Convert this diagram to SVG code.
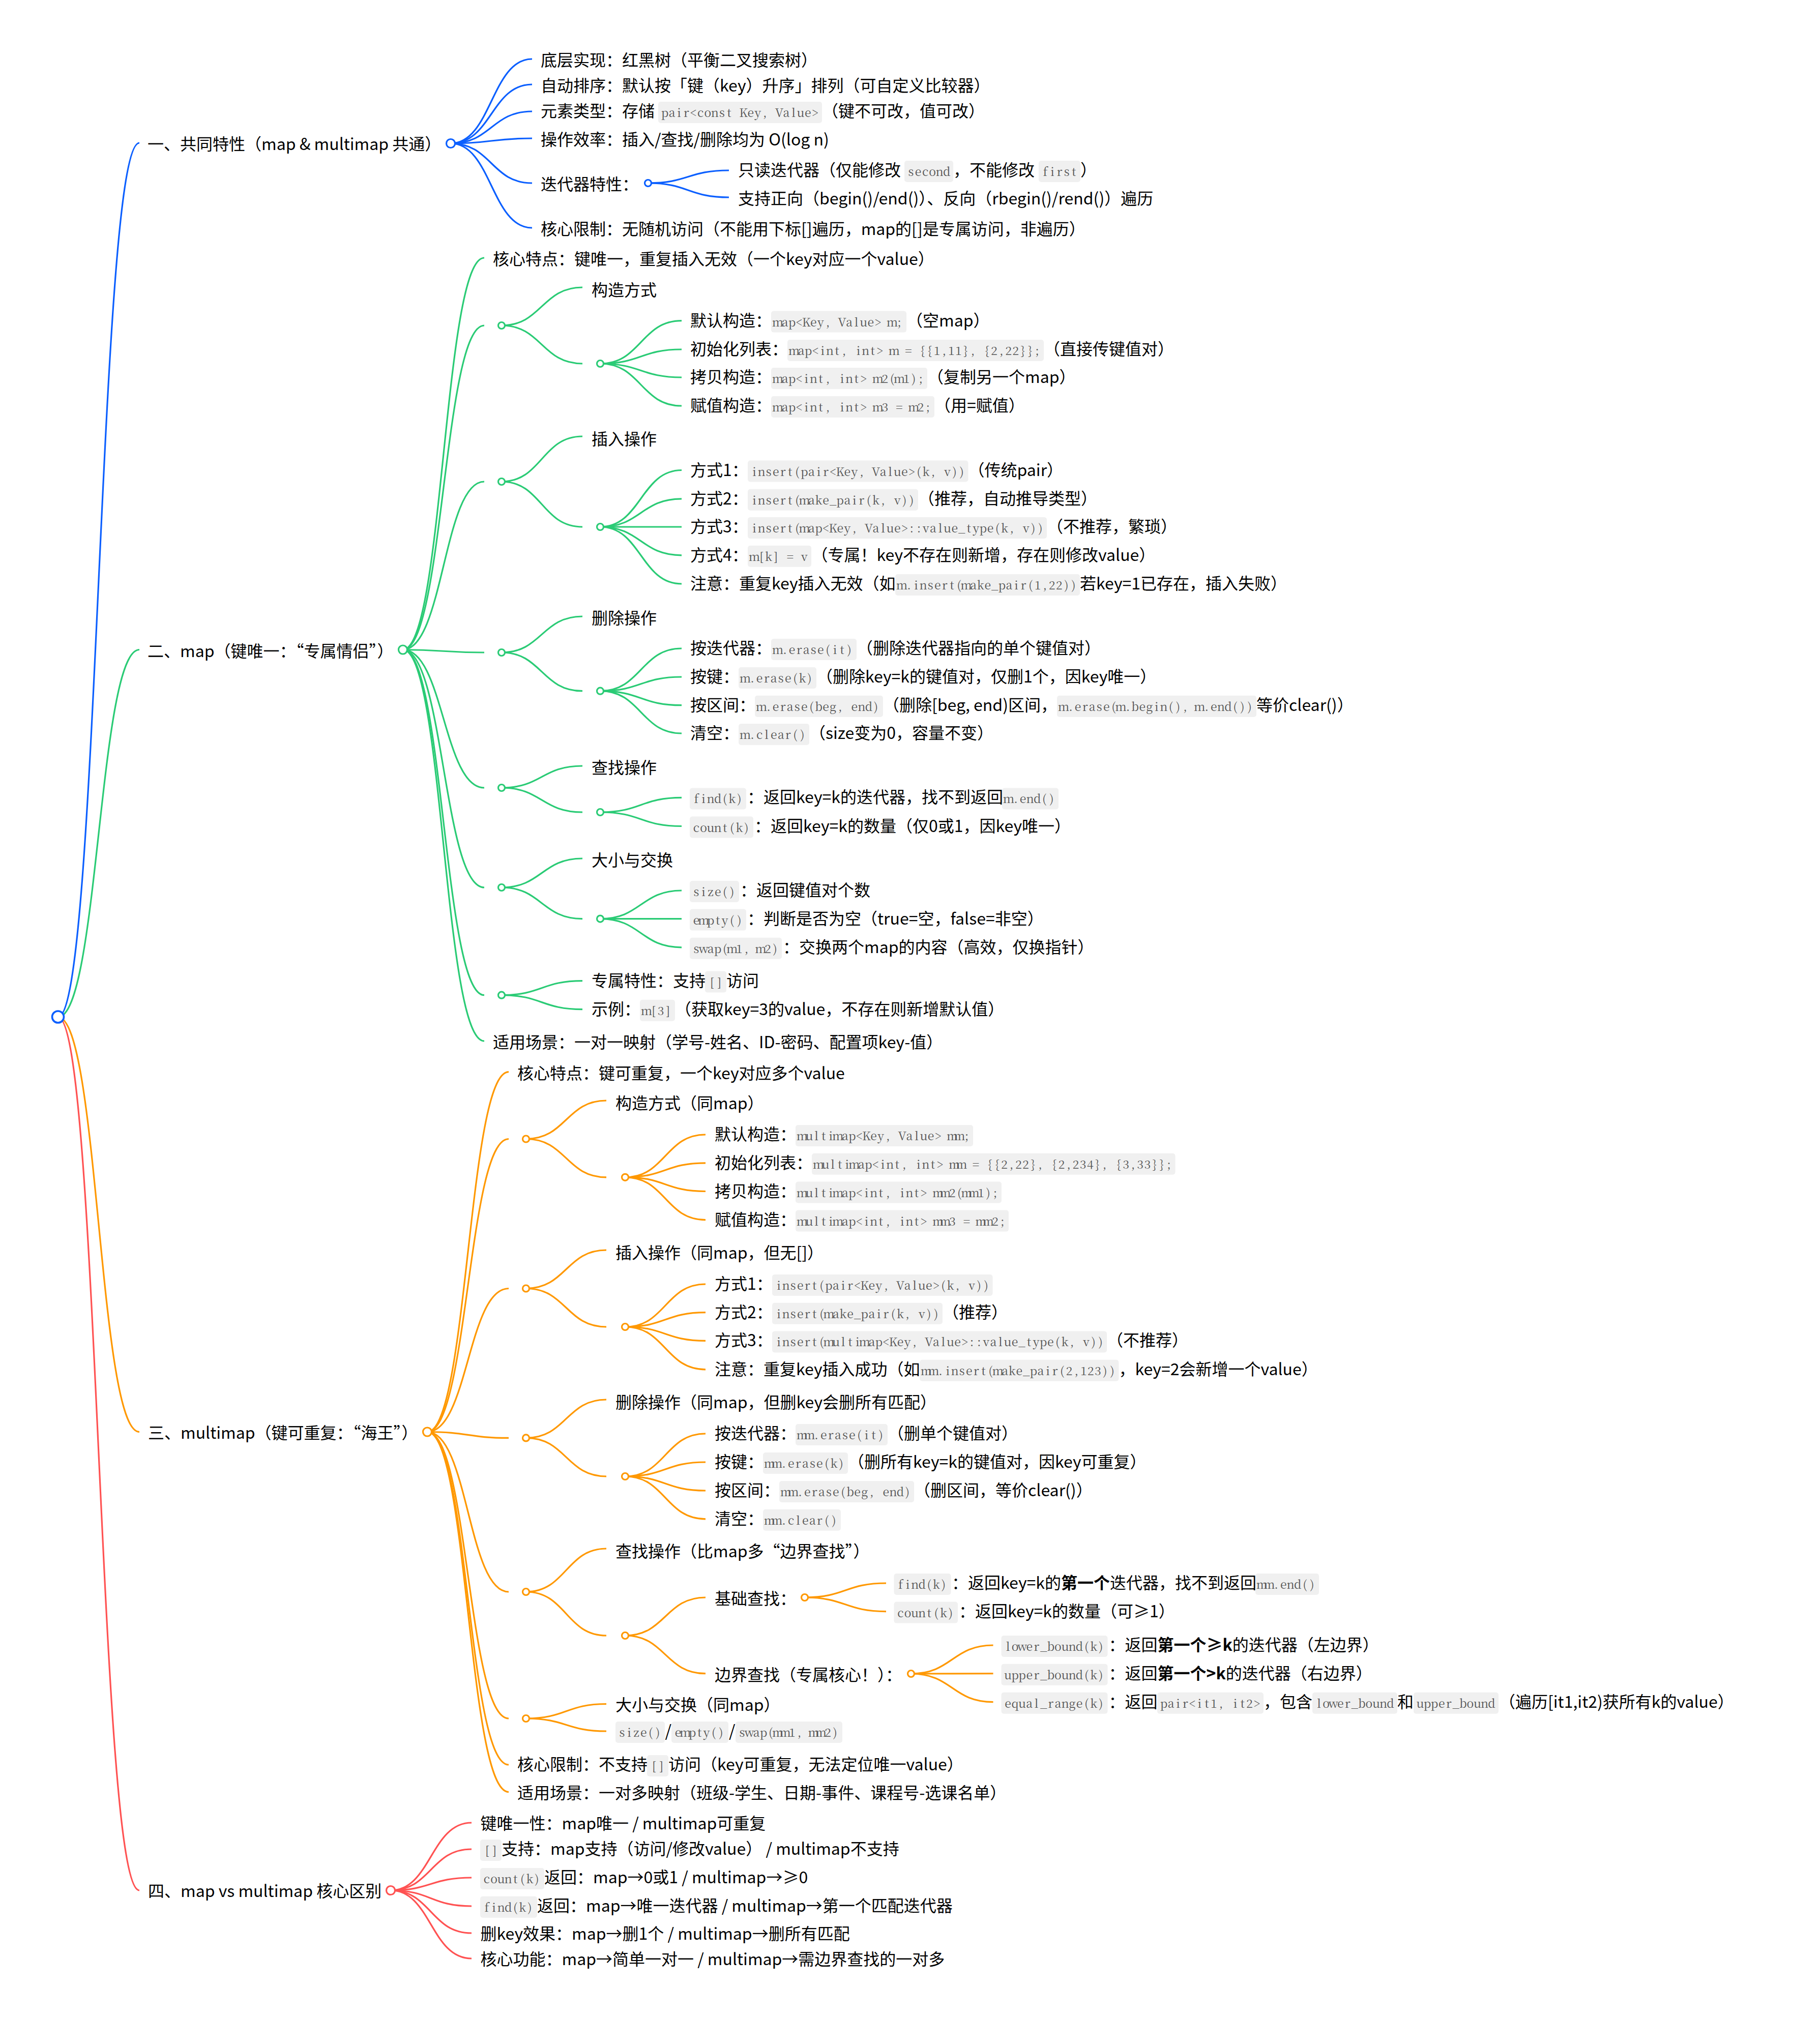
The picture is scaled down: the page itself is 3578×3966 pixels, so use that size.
<svg xmlns="http://www.w3.org/2000/svg" width="3578" height="3966" viewBox="0 0 3578 3966">
<style>
text{font-family:"Noto Sans CJK SC","Noto Sans",sans-serif;font-size:32px;fill:#000;white-space:pre}
text.c{font-family:"Noto Serif CJK SC","Liberation Serif",serif;font-size:23px;fill:#555;text-anchor:middle}
.k{fill:#f0f0f0;height:42px;rx:5px;ry:5px}
.s{font-weight:700}
path{fill:none;stroke-width:3.2}
circle{fill:#fff;stroke-width:3.2}
.B path{stroke:#0b5fff}.B circle{stroke:#0b5fff}
.G path{stroke:#2acb75}.G circle{stroke:#2acb75}
.O path{stroke:#ff9800}.O circle{stroke:#ff9800}
.R path{stroke:#ff5252}.R circle{stroke:#ff5252}
</style>
<rect width="3578" height="3966" fill="#fff"/>
<g id="connectors">
<g class="R"><path d="M114 2000C194 2000 194 3717 274 3717"/>
<path d="M768 3717C847 3717 847 3584 927 3584"/><path d="M768 3717C847 3717 847 3636 927 3636"/><path d="M768 3717C847 3717 847 3692 927 3692"/><path d="M768 3717C847 3717 847 3748 927 3748"/><path d="M768 3717C847 3717 847 3801 927 3801"/><path d="M768 3717C847 3717 847 3851 927 3851"/></g>
<g class="O"><path d="M114 2000C194 2000 194 2815.5 274 2815.5"/>
<path d="M840 2815.5C920 2815.5 920 2107.6 1000 2107.6"/><path d="M840 2815.5C920 2815.5 920 2239.5 1000 2239.5"/><path d="M840 2815.5C920 2815.5 920 2533.5 1000 2533.5"/><path d="M840 2815.5C920 2815.5 920 2827.4 1000 2827.4"/><path d="M840 2815.5C920 2815.5 920 3130 1000 3130"/><path d="M840 2815.5C920 2815.5 920 3379 1000 3379"/><path d="M840 2815.5C920 2815.5 920 3470 1000 3470"/><path d="M840 2815.5C920 2815.5 920 3523.5 1000 3523.5"/>
<path d="M1034 2239.5C1113 2239.5 1113 2164 1192 2164"/><path d="M1034 2239.5C1113 2239.5 1113 2314.8 1192 2314.8"/>
<path d="M1034 2533.5C1113 2533.5 1113 2458 1192 2458"/><path d="M1034 2533.5C1113 2533.5 1113 2609 1192 2609"/>
<path d="M1034 2827.4C1113 2827.4 1113 2752 1192 2752"/><path d="M1034 2827.4C1113 2827.4 1113 2903 1192 2903"/>
<path d="M1034 3130C1113 3130 1113 3045 1192 3045"/><path d="M1034 3130C1113 3130 1113 3216 1192 3216"/>
<path d="M1034 3379C1113 3379 1113 3350.5 1192 3350.5"/><path d="M1034 3379C1113 3379 1113 3404 1192 3404"/>
<path d="M1229 2314.8C1308 2314.8 1308 2231 1387 2231"/><path d="M1229 2314.8C1308 2314.8 1308 2286.8 1387 2286.8"/><path d="M1229 2314.8C1308 2314.8 1308 2342.5 1387 2342.5"/><path d="M1229 2314.8C1308 2314.8 1308 2398.6 1387 2398.6"/>
<path d="M1229 2609C1308 2609 1308 2525 1387 2525"/><path d="M1229 2609C1308 2609 1308 2580.7 1387 2580.7"/><path d="M1229 2609C1308 2609 1308 2636.4 1387 2636.4"/><path d="M1229 2609C1308 2609 1308 2692.8 1387 2692.8"/>
<path d="M1229 2903C1308 2903 1308 2819 1387 2819"/><path d="M1229 2903C1308 2903 1308 2875 1387 2875"/><path d="M1229 2903C1308 2903 1308 2931 1387 2931"/><path d="M1229 2903C1308 2903 1308 2986.8 1387 2986.8"/>
<path d="M1229 3216C1308 3216 1308 3141 1387 3141"/><path d="M1229 3216C1308 3216 1308 3290.7 1387 3290.7"/>
<path d="M1582 3141C1662 3141 1662 3113 1742 3113"/><path d="M1582 3141C1662 3141 1662 3168.6 1742 3168.6"/>
<path d="M1791 3291C1872 3291 1872 3235 1952.5 3235"/><path d="M1791 3291C1872 3291 1872 3290.7 1952.5 3290.7"/><path d="M1791 3291C1872 3291 1872 3346.7 1952.5 3346.7"/></g>
<g class="G"><path d="M114 2000C194 2000 194 1277.5 274 1277.5"/>
<path d="M792 1277.5C872 1277.5 872 507 952 507"/><path d="M792 1277.5C872 1277.5 872 640 952 640"/><path d="M792 1277.5C872 1277.5 872 947 952 947"/><path d="M792 1277.5C872 1277.5 872 1283 952 1283"/><path d="M792 1277.5C872 1277.5 872 1549 952 1549"/><path d="M792 1277.5C872 1277.5 872 1745 952 1745"/><path d="M792 1277.5C872 1277.5 872 1956.7 952 1956.7"/><path d="M792 1277.5C872 1277.5 872 2047 952 2047"/>
<path d="M986 640C1065 640 1065 565 1145 565"/><path d="M986 640C1065 640 1065 715 1145 715"/>
<path d="M986 947C1065 947 1065 858 1145 858"/><path d="M986 947C1065 947 1065 1036 1145 1036"/>
<path d="M986 1283C1065 1283 1065 1212 1145 1212"/><path d="M986 1283C1065 1283 1065 1358.7 1145 1358.7"/>
<path d="M986 1549C1065 1549 1065 1506 1145 1506"/><path d="M986 1549C1065 1549 1065 1597 1145 1597"/>
<path d="M986 1745C1065 1745 1065 1688 1145 1688"/><path d="M986 1745C1065 1745 1065 1806.6 1145 1806.6"/>
<path d="M986 1956.7C1065 1956.7 1065 1928.6 1145 1928.6"/><path d="M986 1956.7C1065 1956.7 1065 1984.7 1145 1984.7"/>
<path d="M1180 715C1260 715 1260 630.6 1340 630.6"/><path d="M1180 715C1260 715 1260 687 1340 687"/><path d="M1180 715C1260 715 1260 742 1340 742"/><path d="M1180 715C1260 715 1260 798 1340 798"/>
<path d="M1180 1036C1260 1036 1260 924.5 1340 924.5"/><path d="M1180 1036C1260 1036 1260 980.8 1340 980.8"/><path d="M1180 1036C1260 1036 1260 1036 1340 1036"/><path d="M1180 1036C1260 1036 1260 1091.8 1340 1091.8"/><path d="M1180 1036C1260 1036 1260 1148 1340 1148"/>
<path d="M1180 1358.7C1260 1358.7 1260 1275 1340 1275"/><path d="M1180 1358.7C1260 1358.7 1260 1331 1340 1331"/><path d="M1180 1358.7C1260 1358.7 1260 1386.7 1340 1386.7"/><path d="M1180 1358.7C1260 1358.7 1260 1442 1340 1442"/>
<path d="M1180 1597C1260 1597 1260 1568.4 1340 1568.4"/><path d="M1180 1597C1260 1597 1260 1624.5 1340 1624.5"/>
<path d="M1180 1806.6C1260 1806.6 1260 1751 1340 1751"/><path d="M1180 1806.6C1260 1806.6 1260 1806.6 1340 1806.6"/><path d="M1180 1806.6C1260 1806.6 1260 1862.8 1340 1862.8"/></g>
<g class="B"><path d="M114 2000C194 2000 194 281 274 281"/>
<path d="M886 282C966 282 966 116 1046 116"/><path d="M886 282C966 282 966 166 1046 166"/><path d="M886 282C966 282 966 219 1046 219"/><path d="M886 282C966 282 966 272 1046 272"/><path d="M886 282C966 282 966 360 1046 360"/><path d="M886 282C966 282 966 448 1046 448"/>
<path d="M1274 360C1353 360 1353 335 1433 335"/><path d="M1274 360C1353 360 1353 388 1433 388"/></g>
</g>
<g id="root" class="B"><circle cx="114" cy="1999.5" r="11.5" style="stroke-width:3.6"/></g>

<g id="blue" class="B">
<g id="b0"><text x="290" y="295">一、共同特性（map &amp; multimap 共通）</text><circle cx="886" cy="282" r="8.5"/></g>
<g id="b1"><text x="1063" y="129.5">底层实现：红黑树（平衡二叉搜索树）</text></g>
<g id="b2"><text x="1063" y="179.5">自动排序：默认按「键（key）升序」排列（可自定义比较器）</text></g>
<g id="b3"><rect class="k" x="1294" y="200" width="322"/><text x="1063" y="230">元素类型：存储</text><text class="c" transform="translate(1300,230)" x="7 21.1 35.1 49.2 63.2 77.3 91.4 105.4 119.5 133.5 147.6 161.7 175.7 189.8 203.8 217.9 232 246 260.1 274.1 288.2 302.3">pair&lt;const Key, Value&gt;</text><text x="1616" y="230">（键不可改，值可改）</text></g>
<g id="b4"><text x="1063" y="285.5">操作效率：插入/查找/删除均为 O(log n)</text></g>
<g id="b5"><text x="1063" y="373.5">迭代器特性：</text><circle cx="1274" cy="360" r="6.5"/></g>
<g id="b6"><rect class="k" x="1778" y="316" width="96"/><rect class="k" x="2042" y="316" width="82"/><text x="1451" y="346">只读迭代器（仅能修改</text><text class="c" transform="translate(1784,346)" x="7 21.1 35.1 49.2 63.2 77.3">second</text><text x="1874" y="346">，不能修改</text><text class="c" transform="translate(2048,346)" x="7 21.1 35.1 49.2 63.2">first</text><text x="2124" y="346">）</text></g>
<g id="b7"><text x="1451" y="401.5">支持正向（begin()/end()）、反向（rbegin()/rend()）遍历</text></g>
<g id="b8"><text x="1063" y="461.5">核心限制：无随机访问（不能用下标[]遍历，map的[]是专属访问，非遍历）</text></g>
</g>

<g id="green" class="G">
<g id="g0"><text x="290" y="1291.5">二、map（键唯一：“专属情侣”）</text><circle cx="792" cy="1277.5" r="8.5"/></g>
<g id="g1"><text x="969" y="521">核心特点：键唯一，重复插入无效（一个key对应一个value）</text></g>
<g id="g2"><circle cx="986" cy="640" r="6.5"/><text x="1163" y="582">构造方式</text><circle cx="1180" cy="715" r="6.5"/></g>
<g id="g3"><rect class="k" x="1516" y="611.6" width="266"/><text x="1357" y="641.6">默认构造：</text><text class="c" transform="translate(1522,641.6)" x="7 21.1 35.1 49.2 63.2 77.3 91.4 105.4 119.5 133.5 147.6 161.7 175.7 189.8 203.8 217.9 232 246">map&lt;Key, Value&gt; m;</text><text x="1782" y="641.6">（空map）</text></g>
<g id="g4"><rect class="k" x="1548" y="668" width="504"/><text x="1357" y="698">初始化列表：</text><text class="c" transform="translate(1554,698)" x="7 21.1 35.1 49.2 63.2 77.3 91.4 105.4 119.5 133.5 147.6 161.7 175.7 189.8 203.8 217.9 232 246 260.1 274.1 288.2 302.3 316.3 330.4 344.4 358.5 372.6 386.6 400.7 414.7 428.8 442.9 456.9 471 485">map&lt;int, int&gt; m = {{1,11}, {2,22}};</text><text x="2052" y="698">（直接传键值对）</text></g>
<g id="g5"><rect class="k" x="1516" y="723" width="307"/><text x="1357" y="753">拷贝构造：</text><text class="c" transform="translate(1522,753)" x="7 21.1 35.1 49.2 63.2 77.3 91.4 105.4 119.5 133.5 147.6 161.7 175.7 189.8 203.8 217.9 232 246 260.1 274.1 288.2">map&lt;int, int&gt; m2(m1);</text><text x="1823" y="753">（复制另一个map）</text></g>
<g id="g6"><rect class="k" x="1516" y="779" width="321"/><text x="1357" y="809">赋值构造：</text><text class="c" transform="translate(1522,809)" x="7 21.1 35.1 49.2 63.2 77.3 91.4 105.4 119.5 133.5 147.6 161.7 175.7 189.8 203.8 217.9 232 246 260.1 274.1 288.2 302.3">map&lt;int, int&gt; m3 = m2;</text><text x="1837" y="809">（用=赋值）</text></g>
<g id="g7"><circle cx="986" cy="947" r="6.5"/><text x="1163" y="875">插入操作</text><circle cx="1180" cy="1036" r="6.5"/></g>
<g id="g8"><rect class="k" x="1470" y="905.5" width="433.5"/><text x="1357" y="935.5">方式1：</text><text class="c" transform="translate(1476,935.5)" x="7 21.1 35.1 49.2 63.2 77.3 91.4 105.4 119.5 133.5 147.6 161.7 175.7 189.8 203.8 217.9 232 246 260.1 274.1 288.2 302.3 316.3 330.4 344.4 358.5 372.6 386.6 400.7 414.7">insert(pair&lt;Key, Value&gt;(k, v))</text><text x="1903.5" y="935.5">（传统pair）</text></g>
<g id="g9"><rect class="k" x="1470" y="961.8" width="335"/><text x="1357" y="991.8">方式2：</text><text class="c" transform="translate(1476,991.8)" x="7 21.1 35.1 49.2 63.2 77.3 91.4 105.4 119.5 133.5 147.6 161.7 175.7 189.8 203.8 217.9 232 246 260.1 274.1 288.2 302.3 316.3">insert(make_pair(k, v))</text><text x="1805" y="991.8">（推荐，自动推导类型）</text></g>
<g id="g10"><rect class="k" x="1470" y="1017" width="588"/><text x="1357" y="1047">方式3：</text><text class="c" transform="translate(1476,1047)" x="7 21.1 35.1 49.2 63.2 77.3 91.4 105.4 119.5 133.5 147.6 161.7 175.7 189.8 203.8 217.9 232 246 260.1 274.1 288.2 302.3 316.3 330.4 344.4 358.5 372.6 386.6 400.7 414.7 428.8 442.9 456.9 471 485 499.1 513.2 527.2 541.3 555.3 569.4">insert(map&lt;Key, Value&gt;::value_type(k, v))</text><text x="2058" y="1047">（不推荐，繁琐）</text></g>
<g id="g11"><rect class="k" x="1470" y="1072.8" width="125"/><text x="1357" y="1102.8">方式4：</text><text class="c" transform="translate(1476,1102.8)" x="7 21.1 35.1 49.2 63.2 77.3 91.4 105.4">m[k] = v</text><text x="1595.5" y="1102.8">（专属！key不存在则新增，存在则修改value）</text></g>
<g id="g12"><rect class="k" x="1760" y="1129" width="363"/><text x="1357" y="1159">注意：重复key插入无效（如</text><text class="c" transform="translate(1766,1159)" x="7 21.1 35.1 49.2 63.2 77.3 91.4 105.4 119.5 133.5 147.6 161.7 175.7 189.8 203.8 217.9 232 246 260.1 274.1 288.2 302.3 316.3 330.4 344.4">m.insert(make_pair(1,22))</text><text x="2123" y="1159">若key=1已存在，插入失败）</text></g>
<g id="g13"><circle cx="986" cy="1283" r="6.5"/><text x="1163" y="1227">删除操作</text><circle cx="1180" cy="1358.7" r="6.5"/></g>
<g id="g14"><rect class="k" x="1516" y="1256" width="168"/><text x="1357" y="1286">按迭代器：</text><text class="c" transform="translate(1522,1286)" x="7 21.1 35.1 49.2 63.2 77.3 91.4 105.4 119.5 133.5 147.6">m.erase(it)</text><text x="1684" y="1286">（删除迭代器指向的单个键值对）</text></g>
<g id="g15"><rect class="k" x="1452" y="1312" width="153"/><text x="1357" y="1342">按键：</text><text class="c" transform="translate(1458,1342)" x="7 21.1 35.1 49.2 63.2 77.3 91.4 105.4 119.5 133.5">m.erase(k)</text><text x="1605" y="1342">（删除key=k的键值对，仅删1个，因key唯一）</text></g>
<g id="g16"><rect class="k" x="1484" y="1367.7" width="252"/><rect class="k" x="2078" y="1367.7" width="392"/><text x="1357" y="1397.7">按区间：</text><text class="c" transform="translate(1490,1397.7)" x="7 21.1 35.1 49.2 63.2 77.3 91.4 105.4 119.5 133.5 147.6 161.7 175.7 189.8 203.8 217.9 232">m.erase(beg, end)</text><text x="1736" y="1397.7">（删除[beg, end)区间，</text><text class="c" transform="translate(2084,1397.7)" x="7 21.1 35.1 49.2 63.2 77.3 91.4 105.4 119.5 133.5 147.6 161.7 175.7 189.8 203.8 217.9 232 246 260.1 274.1 288.2 302.3 316.3 330.4 344.4 358.5 372.6">m.erase(m.begin(), m.end())</text><text x="2470" y="1397.7">等价clear()）</text></g>
<g id="g17"><rect class="k" x="1452" y="1423" width="139"/><text x="1357" y="1453">清空：</text><text class="c" transform="translate(1458,1453)" x="7 21.1 35.1 49.2 63.2 77.3 91.4 105.4 119.5">m.clear()</text><text x="1591" y="1453">（size变为0，容量不变）</text></g>
<g id="g18"><circle cx="986" cy="1549" r="6.5"/><text x="1163" y="1520.5">查找操作</text><circle cx="1180" cy="1597" r="6.5"/></g>
<g id="g19"><rect class="k" x="1356" y="1549.4" width="111"/><rect class="k" x="1970" y="1549.4" width="111"/><text class="c" transform="translate(1362,1579.4)" x="7 21.1 35.1 49.2 63.2 77.3 91.4">find(k)</text><text x="1469" y="1579.4">：返回key=k的迭代器，找不到返回</text><text class="c" transform="translate(1976,1579.4)" x="7 21.1 35.1 49.2 63.2 77.3 91.4">m.end()</text></g>
<g id="g20"><rect class="k" x="1356" y="1605.5" width="125"/><text class="c" transform="translate(1362,1635.5)" x="7 21.1 35.1 49.2 63.2 77.3 91.4 105.4">count(k)</text><text x="1483" y="1635.5">：返回key=k的数量（仅0或1，因key唯一）</text></g>
<g id="g21"><circle cx="986" cy="1745" r="6.5"/><text x="1163" y="1702.5">大小与交换</text><circle cx="1180" cy="1806.6" r="6.5"/></g>
<g id="g22"><rect class="k" x="1356" y="1732" width="97"/><text class="c" transform="translate(1362,1762)" x="7 21.1 35.1 49.2 63.2 77.3">size()</text><text x="1455" y="1762">：返回键值对个数</text></g>
<g id="g23"><rect class="k" x="1356" y="1787.6" width="111"/><text class="c" transform="translate(1362,1817.6)" x="7 21.1 35.1 49.2 63.2 77.3 91.4">empty()</text><text x="1469" y="1817.6">：判断是否为空（true=空，false=非空）</text></g>
<g id="g24"><rect class="k" x="1356" y="1843.8" width="181"/><text class="c" transform="translate(1362,1873.8)" x="7 21.1 35.1 49.2 63.2 77.3 91.4 105.4 119.5 133.5 147.6 161.7">swap(m1, m2)</text><text x="1539" y="1873.8">：交换两个map的内容（高效，仅换指针）</text></g>
<g id="g25"><circle cx="986" cy="1956.7" r="6.5"/><rect class="k" x="1386" y="1909.6" width="42"/><text x="1163" y="1939.6">专属特性：支持</text><text class="c" transform="translate(1393,1939.6)" x="7 21.1">[]</text><text x="1428" y="1939.6">访问</text></g>
<g id="g26"><rect class="k" x="1258" y="1965.7" width="69"/><text x="1163" y="1995.7">示例：</text><text class="c" transform="translate(1264,1995.7)" x="7 21.1 35.1 49.2">m[3]</text><text x="1327" y="1995.7">（获取key=3的value，不存在则新增默认值）</text></g>
<g id="g27"><text x="969" y="2061">适用场景：一对一映射（学号-姓名、ID-密码、配置项key-值）</text></g>
</g>

<g id="orange" class="O">
<g id="o0"><text x="291" y="2829">三、multimap（键可重复：“海王”）</text><circle cx="840" cy="2815.5" r="8.5"/></g>
<g id="o1"><text x="1017" y="2122">核心特点：键可重复，一个key对应多个value</text></g>
<g id="o2"><circle cx="1034" cy="2239.5" r="6.5"/><text x="1210" y="2181">构造方式（同map）</text><circle cx="1229" cy="2314.8" r="6.5"/></g>
<g id="o3"><rect class="k" x="1564" y="2212" width="349"/><text x="1405" y="2242">默认构造：</text><text class="c" transform="translate(1570,2242)" x="7 21.1 35.1 49.2 63.2 77.3 91.4 105.4 119.5 133.5 147.6 161.7 175.7 189.8 203.8 217.9 232 246 260.1 274.1 288.2 302.3 316.3 330.4">multimap&lt;Key, Value&gt; mm;</text></g>
<g id="o4"><rect class="k" x="1596" y="2267.8" width="714.5"/><text x="1405" y="2297.8">初始化列表：</text><text class="c" transform="translate(1602,2297.8)" x="7 21.1 35.1 49.2 63.2 77.3 91.4 105.4 119.5 133.5 147.6 161.7 175.7 189.8 203.8 217.9 232 246 260.1 274.1 288.2 302.3 316.3 330.4 344.4 358.5 372.6 386.6 400.7 414.7 428.8 442.9 456.9 471 485 499.1 513.2 527.2 541.3 555.3 569.4 583.5 597.5 611.6 625.6 639.7 653.8 667.8 681.9 695.9">multimap&lt;int, int&gt; mm = {{2,22}, {2,234}, {3,33}};</text></g>
<g id="o5"><rect class="k" x="1564" y="2323.5" width="405"/><text x="1405" y="2353.5">拷贝构造：</text><text class="c" transform="translate(1570,2353.5)" x="7 21.1 35.1 49.2 63.2 77.3 91.4 105.4 119.5 133.5 147.6 161.7 175.7 189.8 203.8 217.9 232 246 260.1 274.1 288.2 302.3 316.3 330.4 344.4 358.5 372.6 386.6">multimap&lt;int, int&gt; mm2(mm1);</text></g>
<g id="o6"><rect class="k" x="1564" y="2379.6" width="419"/><text x="1405" y="2409.6">赋值构造：</text><text class="c" transform="translate(1570,2409.6)" x="7 21.1 35.1 49.2 63.2 77.3 91.4 105.4 119.5 133.5 147.6 161.7 175.7 189.8 203.8 217.9 232 246 260.1 274.1 288.2 302.3 316.3 330.4 344.4 358.5 372.6 386.6 400.7">multimap&lt;int, int&gt; mm3 = mm2;</text></g>
<g id="o7"><circle cx="1034" cy="2533.5" r="6.5"/><text x="1210" y="2475">插入操作（同map，但无[]）</text><circle cx="1229" cy="2609" r="6.5"/></g>
<g id="o8"><rect class="k" x="1518" y="2506" width="433.5"/><text x="1405" y="2536">方式1：</text><text class="c" transform="translate(1524,2536)" x="7 21.1 35.1 49.2 63.2 77.3 91.4 105.4 119.5 133.5 147.6 161.7 175.7 189.8 203.8 217.9 232 246 260.1 274.1 288.2 302.3 316.3 330.4 344.4 358.5 372.6 386.6 400.7 414.7">insert(pair&lt;Key, Value&gt;(k, v))</text></g>
<g id="o9"><rect class="k" x="1518" y="2561.7" width="335"/><text x="1405" y="2591.7">方式2：</text><text class="c" transform="translate(1524,2591.7)" x="7 21.1 35.1 49.2 63.2 77.3 91.4 105.4 119.5 133.5 147.6 161.7 175.7 189.8 203.8 217.9 232 246 260.1 274.1 288.2 302.3 316.3">insert(make_pair(k, v))</text><text x="1853" y="2591.7">（推荐）</text></g>
<g id="o10"><rect class="k" x="1518" y="2617.4" width="658"/><text x="1405" y="2647.4">方式3：</text><text class="c" transform="translate(1524,2647.4)" x="7 21.1 35.1 49.2 63.2 77.3 91.4 105.4 119.5 133.5 147.6 161.7 175.7 189.8 203.8 217.9 232 246 260.1 274.1 288.2 302.3 316.3 330.4 344.4 358.5 372.6 386.6 400.7 414.7 428.8 442.9 456.9 471 485 499.1 513.2 527.2 541.3 555.3 569.4 583.5 597.5 611.6 625.6 639.7">insert(multimap&lt;Key, Value&gt;::value_type(k, v))</text><text x="2176" y="2647.4">（不推荐）</text></g>
<g id="o11"><rect class="k" x="1808" y="2673.8" width="391.4"/><text x="1405" y="2703.8">注意：重复key插入成功（如</text><text class="c" transform="translate(1814,2703.8)" x="7 21.1 35.1 49.2 63.2 77.3 91.4 105.4 119.5 133.5 147.6 161.7 175.7 189.8 203.8 217.9 232 246 260.1 274.1 288.2 302.3 316.3 330.4 344.4 358.5 372.6">mm.insert(make_pair(2,123))</text><text x="2199.4" y="2703.8">，key=2会新增一个value）</text></g>
<g id="o12"><circle cx="1034" cy="2827.4" r="6.5"/><text x="1210" y="2769">删除操作（同map，但删key会删所有匹配）</text><circle cx="1229" cy="2903" r="6.5"/></g>
<g id="o13"><rect class="k" x="1564" y="2800" width="181"/><text x="1405" y="2830">按迭代器：</text><text class="c" transform="translate(1570,2830)" x="7 21.1 35.1 49.2 63.2 77.3 91.4 105.4 119.5 133.5 147.6 161.7">mm.erase(it)</text><text x="1745" y="2830">（删单个键值对）</text></g>
<g id="o14"><rect class="k" x="1500" y="2856" width="167"/><text x="1405" y="2886">按键：</text><text class="c" transform="translate(1506,2886)" x="7 21.1 35.1 49.2 63.2 77.3 91.4 105.4 119.5 133.5 147.6">mm.erase(k)</text><text x="1667" y="2886">（删所有key=k的键值对，因key可重复）</text></g>
<g id="o15"><rect class="k" x="1532" y="2912" width="265"/><text x="1405" y="2942">按区间：</text><text class="c" transform="translate(1538,2942)" x="7 21.1 35.1 49.2 63.2 77.3 91.4 105.4 119.5 133.5 147.6 161.7 175.7 189.8 203.8 217.9 232 246">mm.erase(beg, end)</text><text x="1797" y="2942">（删区间，等价clear()）</text></g>
<g id="o16"><rect class="k" x="1500" y="2967.8" width="153"/><text x="1405" y="2997.8">清空：</text><text class="c" transform="translate(1506,2997.8)" x="7 21.1 35.1 49.2 63.2 77.3 91.4 105.4 119.5 133.5">mm.clear()</text></g>
<g id="o17"><circle cx="1034" cy="3130" r="6.5"/><text x="1210" y="3062">查找操作（比map多“边界查找”）</text><circle cx="1229" cy="3216" r="6.5"/></g>
<g id="o18"><text x="1405" y="3154.5">基础查找：</text><circle cx="1582" cy="3141" r="6.5"/></g>
<g id="o19"><rect class="k" x="1757.5" y="3094" width="112"/><rect class="k" x="2468" y="3094" width="125"/><text class="c" transform="translate(1763.5,3124)" x="7 21.1 35.1 49.2 63.2 77.3 91.4">find(k)</text><text x="1871" y="3124">：返回key=k的<tspan class="s">第一个</tspan>迭代器，找不到返回</text><text class="c" transform="translate(2474,3124)" x="7 21.1 35.1 49.2 63.2 77.3 91.4 105.4">mm.end()</text></g>
<g id="o20"><rect class="k" x="1757.5" y="3149.6" width="125.5"/><text class="c" transform="translate(1763.5,3179.6)" x="7 21.1 35.1 49.2 63.2 77.3 91.4 105.4">count(k)</text><text x="1885" y="3179.6">：返回key=k的数量（可≥1）</text></g>
<g id="o21"><text x="1405" y="3304.5">边界查找（专属核心！）：</text><circle cx="1791" cy="3291" r="6.5"/></g>
<g id="o22"><rect class="k" x="1968.5" y="3216" width="209"/><text class="c" transform="translate(1974.5,3246)" x="7 21.1 35.1 49.2 63.2 77.3 91.4 105.4 119.5 133.5 147.6 161.7 175.7 189.8">lower_bound(k)</text><text x="2179.5" y="3246">：返回<tspan class="s">第一个≥k</tspan>的迭代器（左边界）</text></g>
<g id="o23"><rect class="k" x="1968.5" y="3271.7" width="209"/><text class="c" transform="translate(1974.5,3301.7)" x="7 21.1 35.1 49.2 63.2 77.3 91.4 105.4 119.5 133.5 147.6 161.7 175.7 189.8">upper_bound(k)</text><text x="2179.5" y="3301.7">：返回<tspan class="s">第一个&gt;k</tspan>的迭代器（右边界）</text></g>
<g id="o24"><rect class="k" x="1968.5" y="3327.7" width="209"/><rect class="k" x="2275" y="3327.7" width="209"/><rect class="k" x="2580" y="3327.7" width="167"/><rect class="k" x="2779" y="3327.7" width="167"/><text class="c" transform="translate(1974.5,3357.7)" x="7 21.1 35.1 49.2 63.2 77.3 91.4 105.4 119.5 133.5 147.6 161.7 175.7 189.8">equal_range(k)</text><text x="2179.5" y="3357.7">：返回</text><text class="c" transform="translate(2281,3357.7)" x="7 21.1 35.1 49.2 63.2 77.3 91.4 105.4 119.5 133.5 147.6 161.7 175.7 189.8">pair&lt;it1, it2&gt;</text><text x="2484" y="3357.7">，包含</text><text class="c" transform="translate(2586,3357.7)" x="7 21.1 35.1 49.2 63.2 77.3 91.4 105.4 119.5 133.5 147.6">lower_bound</text><text x="2747" y="3357.7">和</text><text class="c" transform="translate(2785,3357.7)" x="7 21.1 35.1 49.2 63.2 77.3 91.4 105.4 119.5 133.5 147.6">upper_bound</text><text x="2947" y="3357.7">（遍历[it1,it2)获所有k的value）</text></g>
<g id="o25"><circle cx="1034" cy="3379" r="6.5"/><text x="1210" y="3364">大小与交换（同map）</text></g>
<g id="o26"><rect class="k" x="1210" y="3385" width="97"/><rect class="k" x="1320" y="3385" width="112"/><rect class="k" x="1446" y="3385" width="210"/><text class="c" transform="translate(1216,3415)" x="7 21.1 35.1 49.2 63.2 77.3">size()</text><text x="1307.5" y="3415">/</text><text class="c" transform="translate(1326,3415)" x="7 21.1 35.1 49.2 63.2 77.3 91.4">empty()</text><text x="1433" y="3415">/</text><text class="c" transform="translate(1452,3415)" x="7 21.1 35.1 49.2 63.2 77.3 91.4 105.4 119.5 133.5 147.6 161.7 175.7 189.8">swap(mm1, mm2)</text></g>
<g id="o27"><rect class="k" x="1272" y="3451" width="42"/><text x="1017" y="3481">核心限制：不支持</text><text class="c" transform="translate(1279,3481)" x="7 21.1">[]</text><text x="1314" y="3481">访问（key可重复，无法定位唯一value）</text></g>
<g id="o28"><text x="1017" y="3537">适用场景：一对多映射（班级-学生、日期-事件、课程号-选课名单）</text></g>
</g>

<g id="red" class="R">
<g id="r0"><text x="291" y="3730">四、map vs multimap 核心区别</text><circle cx="768" cy="3717" r="8.5"/></g>
<g id="r1"><text x="944.5" y="3596.6">键唯一性：map唯一 / multimap可重复</text></g>
<g id="r2"><rect class="k" x="944" y="3617" width="42"/><text class="c" transform="translate(951,3647)" x="7 21.1">[]</text><text x="986" y="3647">支持：map支持（访问/修改value） / multimap不支持</text></g>
<g id="r3"><rect class="k" x="944" y="3673" width="126"/><text class="c" transform="translate(950,3703)" x="7 21.1 35.1 49.2 63.2 77.3 91.4 105.4">count(k)</text><text x="1070" y="3703">返回：map→0或1 / multimap→≥0</text></g>
<g id="r4"><rect class="k" x="944" y="3728.7" width="112"/><text class="c" transform="translate(950,3758.7)" x="7 21.1 35.1 49.2 63.2 77.3 91.4">find(k)</text><text x="1056" y="3758.7">返回：map→唯一迭代器 / multimap→第一个匹配迭代器</text></g>
<g id="r5"><text x="944.5" y="3813.6">删key效果：map→删1个 / multimap→删所有匹配</text></g>
<g id="r6"><text x="944.5" y="3864">核心功能：map→简单一对一 / multimap→需边界查找的一对多</text></g>
</g>
</svg>
